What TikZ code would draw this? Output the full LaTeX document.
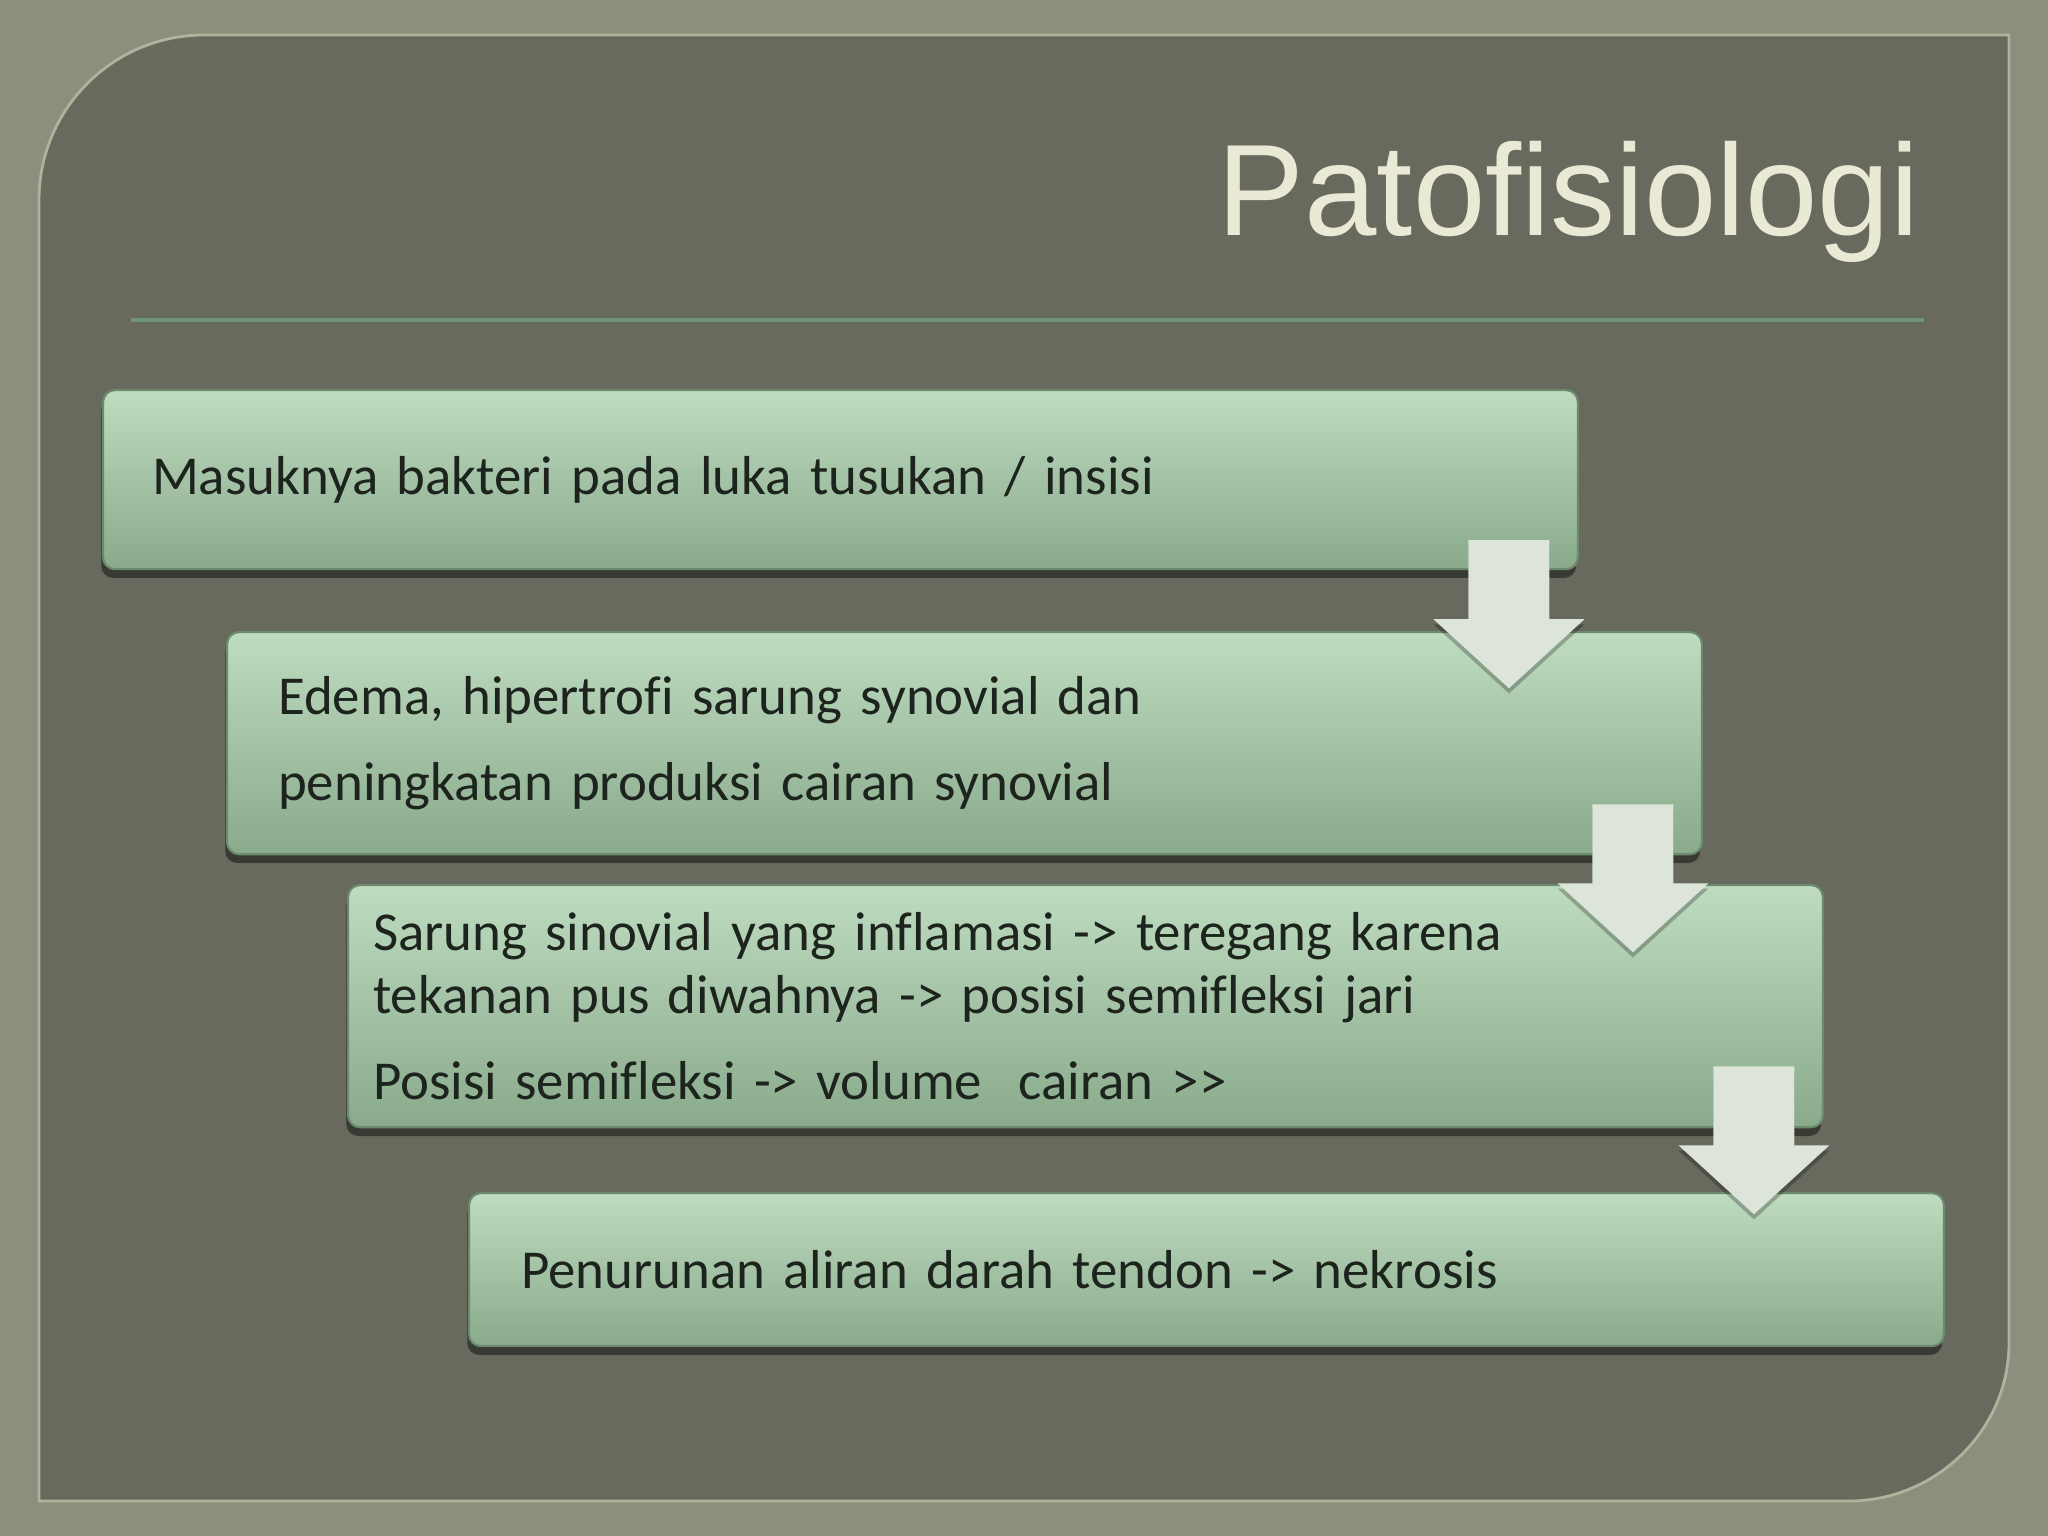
\documentclass[tikz,border=0pt]{standalone}
\usepackage{fontspec}
\newfontfamily\boxfont{Carlito}[Ligatures=NoCommon]
\newfontfamily\titlefont{Liberation Sans}[Ligatures=NoCommon]
\usetikzlibrary{positioning,calc,shadows}

\definecolor{framebg}{RGB}{139,143,125}
\definecolor{panelbg}{RGB}{104,106,94}
\definecolor{panelrim}{RGB}{176,179,156}
\definecolor{rulegreen}{RGB}{110,146,122}
\definecolor{titlecream}{RGB}{233,233,214}
\definecolor{boxtop}{RGB}{190,220,192}
\definecolor{boxbottom}{RGB}{138,170,140}
\definecolor{boxedge}{RGB}{108,138,110}
\definecolor{boxtext}{RGB}{28,36,29}
\definecolor{arrowfill}{RGB}{221,229,218}

\begin{document}
\begin{tikzpicture}[
    x=0.01cm, y=-0.01cm,
    stepbox/.style={rectangle, anchor=north west, rounded corners=0.12cm, top color=boxtop, bottom color=boxbottom, draw=boxedge, line width=0.6pt, minimum width=14.74cm, inner ysep=0pt, align=left, text=boxtext, font=\boxfont\fontsize{15.6}{17.9}\selectfont, drop shadow={shadow xshift=-0.5pt, shadow yshift=-2.5pt, opacity=0.45, fill=black}},
    flowarrow/.style={fill=arrowfill, draw=none, drop shadow={shadow xshift=0pt, shadow yshift=-1.5pt, opacity=0.25, fill=black}}
]
\useasboundingbox (0,0) rectangle (2048,1536);

% Frame and panel
\fill[framebg] (0,0) rectangle (2048,1536);
\fill[panelbg, draw=panelrim, line width=0.8pt] (39,1501) -- (39,200) .. controls (39,109) and (113,35) .. (204,35) -- (2009,35) -- (2009,1343) .. controls (2009,1430) and (1936,1501) .. (1849,1501) -- cycle;

% Title
\node[anchor=base east, inner sep=0pt, text=titlecream, font=\titlefont\fontsize{37}{44}\selectfont] (title) at (1920,235) {Patofisiologi};
\draw[rulegreen, line width=0.9pt] (131,320) -- (1924,320);

% Steps
\node[stepbox, minimum height=1.79cm, inner xsep=0.49cm, text width=13.76cm] (box1) at (102,389) {Masuknya bakteri pada luka tusukan / insisi};
\node[stepbox, minimum height=2.22cm, inner xsep=0.51cm, text width=13.72cm] (box2) at (226,631) {Edema, hipertrofi sarung synovial dan\\[6.6pt] peningkatan produksi cairan synovial};
\node[stepbox, minimum height=2.42cm, inner xsep=0.25cm, text width=14.24cm] (box3) at (347,884) {Sarung sinovial yang inflamasi -> teregang karena\\ tekanan pus diwahnya -> posisi semifleksi jari\\[6.6pt] Posisi semifleksi -> volume\ \ cairan >>};
\node[stepbox, minimum height=1.53cm, inner xsep=0.52cm, text width=13.70cm] (box4) at (468,1192) {Penurunan aliran darah tendon -> nekrosis};

% Block arrows between steps
\foreach \src/\up in {box1/30, box2/51, box3/62} {
    \coordinate (a) at ($(\src.south east)+(-70,-\up)$);
    \fill[flowarrow] (a) ++(-40.5,0) -- ++(81,0) -- ++(0,79) -- ++(35,0) -- ++(-75.5,69) -- ++(-75.5,-69) -- ++(35,0) -- cycle;
}

\end{tikzpicture}
\end{document}
